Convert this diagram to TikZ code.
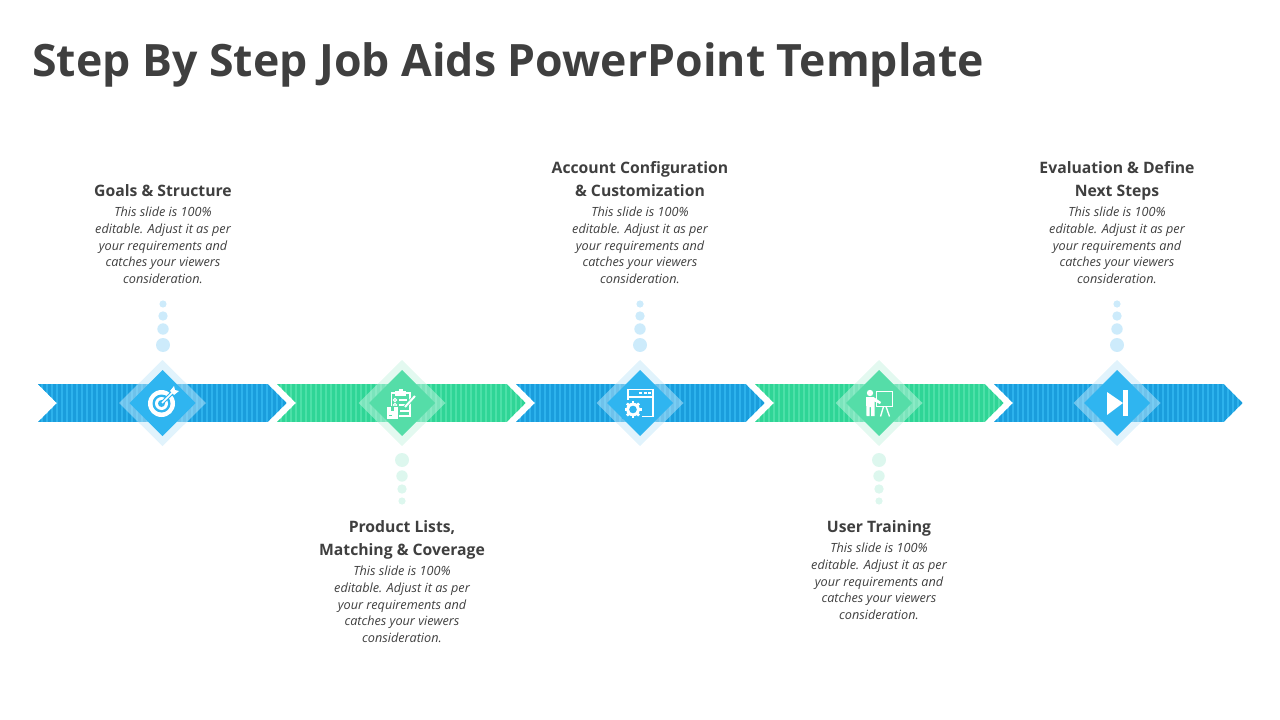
\documentclass[tikz,border=0pt]{standalone}
\usepackage{fontspec}
\setmainfont{Open Sans}
\definecolor{titlegray}{HTML}{3F3F3F}
\definecolor{bluebar}{HTML}{2DB2EC}
\definecolor{bluestripe}{HTML}{1A9DDC}
\definecolor{greenbar}{HTML}{4DE0A8}
\definecolor{greenstripe}{HTML}{2FD596}
\definecolor{bluegem}{HTML}{2FB5F0}
\definecolor{greengem}{HTML}{55DDA8}
\definecolor{bluehalo}{HTML}{C4E8FA}
\definecolor{greenhalo}{HTML}{C8F4E2}
\definecolor{bluedot}{HTML}{CDEBFB}
\definecolor{greendot}{HTML}{DDF7EE}
\tikzset{
  headtext/.style={align=center,text=titlegray,font=\fontsize{11.8}{17.25}\selectfont\bfseries,execute at end node={\vphantom{g}}},
  bodytext/.style={align=center,text=titlegray,font=\fontsize{9.5}{12.6}\selectfont\itshape},
  iconline/.style={draw=white,line width=1pt,fill=none},
}
% one striped chevron of the bar
\newcommand{\stripebar}[3]{%
  \begin{scope}
    \clip (#1,384) -- ++(229.5,0) -- ++(19,19) -- ++(-19,19) -- ++(-229.5,0) -- ++(19,-19) -- cycle;
    \fill[#2] (#1,384) rectangle ++(250,38);
    \foreach \s in {0,5,...,245} \fill[#3] (#1+\s,384) rectangle ++(2.5,38);
  \end{scope}}
% halo and gem of one step
\newcommand{\gem}[3]{%
  \fill[#2,opacity=.5] (#1-43.5,403) -- (#1,360) -- (#1+43.5,403) -- (#1,446) -- cycle;
  \fill[#3] (#1-33,403) -- (#1,370) -- (#1+33,403) -- (#1,436) -- cycle;}
\begin{document}
\begin{tikzpicture}[x=0.75pt,y=-0.75pt]
\useasboundingbox (0,0) rectangle (1280,720);
% title
\node[anchor=base west,inner sep=0pt,text=titlegray,font=\fontsize{33.45}{40}\selectfont\bfseries] (title) at (32,76.5) {Step By Step Job Aids PowerPoint Template};
% bar
\stripebar{38}{bluebar}{bluestripe}
\stripebar{277}{greenbar}{greenstripe}
\stripebar{516}{bluebar}{bluestripe}
\stripebar{755}{greenbar}{greenstripe}
\stripebar{994}{bluebar}{bluestripe}
% gems
\gem{162.5}{bluehalo}{bluegem}
\gem{402}{greenhalo}{greengem}
\gem{640}{bluehalo}{bluegem}
\gem{879}{greenhalo}{greengem}
\gem{1117}{bluehalo}{bluegem}
% dots above
\foreach \x in {163,640,1117} {
  \fill[bluedot] (\x,304) circle (3.6*0.75pt);
  \fill[bluedot] (\x,316) circle (4.7*0.75pt);
  \fill[bluedot] (\x,329) circle (5.7*0.75pt);
  \fill[bluedot] (\x,345) circle (7*0.75pt);
}
% dots below
\foreach \x in {402,879} {
  \fill[greendot] (\x,460) circle (7*0.75pt);
  \fill[greendot] (\x,476) circle (5.7*0.75pt);
  \fill[greendot] (\x,489) circle (4.7*0.75pt);
  \fill[greendot] (\x,501) circle (3.6*0.75pt);
}
% target
\fill[white] (161.5,403.5) circle (13.5*0.75pt);
\fill[bluegem] (161.5,403.5) circle (9*0.75pt);
\fill[white] (161.5,403.5) circle (6.5*0.75pt);
\fill[bluegem] (161.5,403.5) circle (3.5*0.75pt);
\draw[bluegem,line width=2.8pt] (162,403) -- (173,392);
\draw[white,line width=1.2pt] (162,403) -- (173,392);
\fill[white] (170,391) -- (174,386) -- (175,390) -- (179,391) -- (174,395) -- cycle;
% clipboard and parcel
\draw[iconline,line width=1.3pt] (391.5,393) rectangle (410,416);
\fill[white] (395,391) rectangle (406,396);
\fill[white] (398.5,388.5) rectangle (402.5,392);
\foreach \y in {400,405} {
  \draw[white,line width=.8pt] (395,\y) circle (1.7*0.75pt);
  \draw[white,line width=1pt] (398.5,\y) -- (407,\y);
}
\draw[greengem,line width=2.6pt] (405,407) -- (415,396);
\draw[white,line width=1.5pt] (405,407) -- (415,396);
\fill[white] (400,410) rectangle (410,412);
\fill[greengem] (385.5,405.5) rectangle (398.5,420);
\fill[white] (387,407) rectangle (397.5,418.5);
\fill[greengem] (391,407) rectangle (393.5,411);
\fill[greengem] (388.5,414.5) rectangle (392,416);
% window and gear
\draw[iconline,line width=.9pt] (628,389.5) rectangle (653,416.5);
\draw[iconline,line width=.9pt] (628,397) -- (653,397);
\foreach \x in {639,644,648} \fill[white] (\x,392) rectangle ++(2.5,2.2);
\fill[bluegem] (622,400) rectangle (641.5,419);
\foreach \a in {0,45,...,315} \draw[white,line width=2pt] (633,409.5) -- ++(\a:8.5*0.75pt);
\fill[white] (633,409.5) circle (6.8*0.75pt);
\fill[bluegem] (633,409.5) circle (3.8*0.75pt);
% presenter and board
\fill[white] (870,393) circle (3.2*0.75pt);
\fill[white] (866,397) -- (873.5,397) -- (881,402) -- (880,404) -- (874.5,401.5) -- (874.5,416) -- (871,416) -- (871,407) -- (869.5,407) -- (869.5,416) -- (866.5,416) -- cycle;
\draw[iconline] (876.5,391.5) rectangle (892.5,406.5);
\draw[iconline] (883.5,406.5) -- (880.5,416.5);
\draw[iconline] (886,406.5) -- (889.5,416.5);
% skip to next
\fill[white] (1107,392) -- (1123,403) -- (1107,415) -- cycle;
\fill[white] (1123,390) rectangle (1128,416);
% step texts
\node[headtext,anchor=south] (goalshead) at (163,205.3) {Goals \& Structure};
\node[bodytext,anchor=north] (goalsbody) at (163,202.2) {This slide is 100\%\\editable. Adjust it as per\\your requirements and\\catches your viewers\\consideration.};
\node[headtext,anchor=south] (producthead) at (402,564.3) {Product Lists,\\Matching \& Coverage};
\node[bodytext,anchor=north] (productbody) at (402,561.2) {This slide is 100\%\\editable. Adjust it as per\\your requirements and\\catches your viewers\\consideration.};
\node[headtext,anchor=south] (accounthead) at (640,205.3) {Account Configuration\\\& Customization};
\node[bodytext,anchor=north] (accountbody) at (640,202.2) {This slide is 100\%\\editable. Adjust it as per\\your requirements and\\catches your viewers\\consideration.};
\node[headtext,anchor=south] (userhead) at (879,541.3) {User Training};
\node[bodytext,anchor=north] (userbody) at (879,538.2) {This slide is 100\%\\editable. Adjust it as per\\your requirements and\\catches your viewers\\consideration.};
\node[headtext,anchor=south] (evalhead) at (1117,205.3) {Evaluation \& Define\\Next Steps};
\node[bodytext,anchor=north] (evalbody) at (1117,202.2) {This slide is 100\%\\editable. Adjust it as per\\your requirements and\\catches your viewers\\consideration.};
\end{tikzpicture}
\end{document}
